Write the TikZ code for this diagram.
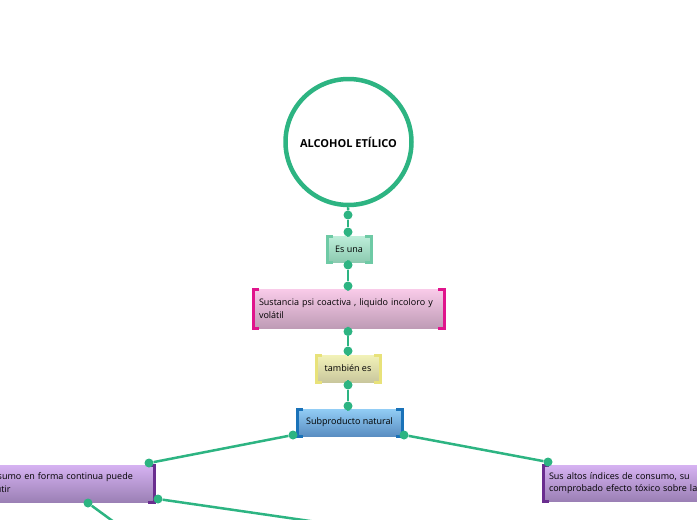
\documentclass[tikz,border=0pt]{standalone}
\usepackage{fontspec}
\setmainfont{Open Sans}
\definecolor{linkgreen}{RGB}{45,180,130}
\definecolor{esunatop}{RGB}{190,238,218}
\definecolor{esunabot}{RGB}{140,202,176}
\definecolor{esunaline}{RGB}{110,202,165}
\definecolor{sustanciatop}{RGB}{249,203,233}
\definecolor{sustanciabot}{RGB}{191,156,182}
\definecolor{sustancialine}{RGB}{224,20,140}
\definecolor{tambientop}{RGB}{242,242,184}
\definecolor{tambienbot}{RGB}{201,199,157}
\definecolor{tambienline}{RGB}{232,226,122}
\definecolor{subtop}{RGB}{146,205,245}
\definecolor{subbot}{RGB}{90,142,194}
\definecolor{subline}{RGB}{26,114,184}
\definecolor{purpletop}{RGB}{214,178,242}
\definecolor{purplebot}{RGB}{155,128,181}
\definecolor{purpleline}{RGB}{106,45,143}
\begin{document}
\begin{tikzpicture}[x=1pt,y=-1pt,
	link/.style={draw=linkgreen,line width=2.5pt},
	joint/.style={circle,fill=linkgreen,inner sep=0pt,minimum size=9pt},
	topic/.style={inner xsep=6pt,inner ysep=3pt,outer sep=0pt,font=\fontsize{9}{12.5}\selectfont},
	bracket/.style={draw=#1,line width=3pt}]
	\useasboundingbox (0,0) rectangle (697,520);
	\clip (0,0) rectangle (697,520);
	\node [circle,draw=linkgreen,line width=4.5pt,minimum size=126pt,font=\bfseries\fontsize{11}{13}\selectfont] (alcohol) at (348.5,142) {ALCOHOL ETÍLICO};
	\node [topic,top color=esunatop,bottom color=esunabot,minimum width=44pt,minimum height=26pt] (esuna) at (349,249) {Es una};
	\node [topic,top color=sustanciatop,bottom color=sustanciabot,text width=179pt,align=left,minimum height=39pt] (sustancia) at (348.5,308.5) {Sustancia psi coactiva , liquido incoloro y\\volátil};
	\node [topic,top color=tambientop,bottom color=tambienbot,minimum width=64pt,minimum height=27pt] (tambien) at (348,368.5) {también es};
	\node [topic,top color=subtop,bottom color=subbot,minimum width=105pt,minimum height=27pt] (subproducto) at (349.5,422.5) {Subproducto natural};
	\node [topic,top color=purpletop,bottom color=purplebot,text width=179pt,align=left,minimum height=37pt,anchor=east] (consumo) at (154,483.5) {Su consumo en forma continua puede\\repercutir};
	\node [topic,top color=purpletop,bottom color=purplebot,text width=179pt,align=left,minimum height=36pt,anchor=west] (indices) at (543,483) {Sus altos índices de consumo, su\\comprobado efecto tóxico sobre la salud};
	\foreach \n/\c in {esuna/esunaline, sustancia/sustancialine, tambien/tambienline, subproducto/subline, consumo/purpleline, indices/purpleline} {
		\draw [bracket=\c] ([xshift=6pt]\n.north west) -- (\n.north west) -- (\n.south west) -- ([xshift=6pt]\n.south west);
		\draw [bracket=\c] ([xshift=-6pt]\n.north east) -- (\n.north east) -- (\n.south east) -- ([xshift=-6pt]\n.south east);
	}
	\node [joint] (d1) at (348,215) {};
	\node [joint] (d2) at (348,232) {};
	\node [joint] (d3) at (348,265) {};
	\node [joint] (d4) at (348,286) {};
	\node [joint] (d5) at (348,331.5) {};
	\node [joint] (d6) at (348,351) {};
	\node [joint] (d7) at (348,385) {};
	\node [joint] (d8) at (348,406) {};
	\node [joint] (d9) at (293,435) {};
	\node [joint] (d10) at (404,435) {};
	\node [joint] (d11) at (149,463) {};
	\node [joint] (d12) at (548,462) {};
	\node [joint] (d13) at (158,499) {};
	\node [joint] (d14) at (88,503) {};
	\coordinate (below1) at (448,541);
	\coordinate (below2) at (140,541);
	\draw [link] (alcohol) -- (d1);
	\draw [link] (d1) -- (d2);
	\draw [link] (d2) -- (esuna);
	\draw [link] (esuna) -- (d3);
	\draw [link] (d3) -- (d4);
	\draw [link] (d4) -- (sustancia);
	\draw [link] (sustancia) -- (d5);
	\draw [link] (d5) -- (d6);
	\draw [link] (d6) -- (tambien);
	\draw [link] (tambien) -- (d7);
	\draw [link] (d7) -- (d8);
	\draw [link] (d8) -- (subproducto);
	\draw [link] (d9) -- (d11);
	\draw [link] (d10) -- (d12);
	\draw [link] (d13) -- (below1);
	\draw [link] (d14) -- (below2);
\end{tikzpicture}
\end{document}
